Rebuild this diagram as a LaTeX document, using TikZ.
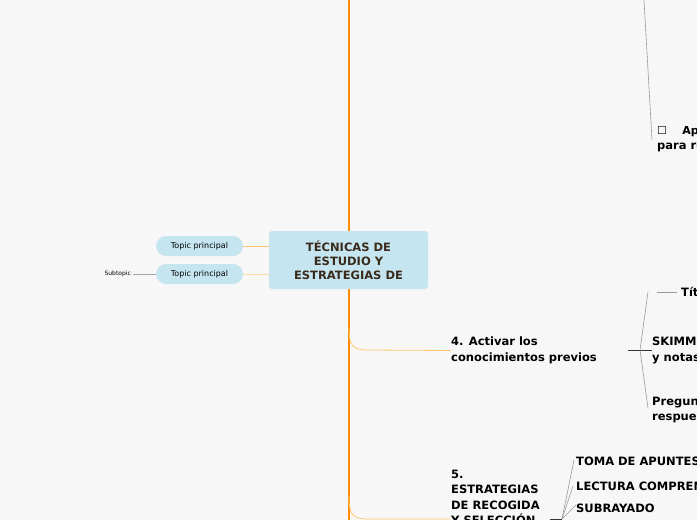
\documentclass[tikz,border=0pt]{standalone}
\usepackage{fontspec}
\setmainfont{DejaVu Sans}
\definecolor{bg}{HTML}{F7F7F7}
\definecolor{trunk}{HTML}{FF8C00}
\definecolor{lor}{HTML}{FFC870}
\definecolor{lor2}{HTML}{FFDCA0}
\definecolor{boxc}{HTML}{C5E5F0}
\definecolor{brown}{HTML}{3A2A1A}
\tikzset{
  lbl/.style={anchor=west,inner sep=0pt,align=left,font=\fontsize{11.5}{15.5}\selectfont\bfseries},
  pill/.style={fill=boxc,rounded corners=10pt,minimum width=87pt,minimum height=20pt,inner sep=0pt,font=\fontsize{8}{9}\selectfont},
  gl/.style={draw=gray!80,line width=0.6pt},
  dl/.style={draw=black!80,line width=0.9pt},
  ol/.style={draw=lor,line width=0.8pt}
}
\begin{document}
\begin{tikzpicture}[x=1pt,y=-1pt]
\fill[bg] (0,0) rectangle (697,520);
\useasboundingbox (0,0) rectangle (697,520);
\clip (0,0) rectangle (697,520);
\draw[trunk,line width=2.6pt] (349,0) -- (349,520);
\node[fill=boxc,rounded corners=3pt,minimum width=159pt,minimum height=58pt,inner sep=0pt,align=center,text=brown,font=\fontsize{11.5}{14}\selectfont\bfseries] (root) at (348.5,260) {TÉCNICAS DE\\ESTUDIO Y\\ESTRATEGIAS DE};
\node[pill] (t1) at (199.5,246) {Topic principal};
\node[pill] (t2) at (199.5,274) {Topic principal};
\node[anchor=east,inner sep=0pt,font=\fontsize{6}{6}\selectfont] (st) at (131,274) {Subtopic};
\draw[ol] (t1.east) -- (root.west |- t1.east);
\draw[draw=lor2,line width=0.8pt] (t2.east) -- (root.west |- t2.east);
\draw[draw=gray!70,line width=1pt] (st.east) ++(2,0) -- (t2.west);
% branch 4
\node[lbl] (b4) at (451,350.5) {4. Activar los\\conocimientos previos};
\draw[ol] (349,328) .. controls (349,345) and (352,350) .. (368,350) -- (b4.west);
\coordinate (j4) at (640,350);
\draw[dl] (628,350) -- (652,350);
\node[lbl] (c1) at (681,292) {Títulos};
\node[lbl] (c2) at (652,350.5) {SKIMMING\\y notas};
\node[lbl] (c3) at (652,410) {Preguntas y\\respuestas};
\draw[gl] (j4) -- (648,292);
\draw[gl] (j4) -- (648,408);
\draw[gl] (657,292) -- (677,292);
% top
\node[lbl] (a1) at (657,139) {\fontsize{11}{16}\selectfont ☐\hspace{1.4em}Aprender\\para recordar};
\draw[gl] (644,0) -- (652,140);
% branch 5
\node[lbl] (b5) at (451,497.5) {5.\\ESTRATEGIAS\\DE RECOGIDA\\Y SELECCIÓN};
\draw[ol] (349,496) .. controls (349,514) and (352,519) .. (368,519) -- (450,519);
\coordinate (j5) at (562,519);
\draw[dl] (550,519) -- (j5);
\node[lbl] (d1) at (576,461) {TOMA DE APUNTES};
\node[lbl] (d2) at (576,486) {LECTURA COMPRENSIVA};
\node[lbl] (d3) at (576,508) {SUBRAYADO};
\draw[gl] (j5) -- (574,460);
\draw[gl] (j5) -- (573,486);
\draw[gl] (j5) -- (576,505);
\end{tikzpicture}
\end{document}
